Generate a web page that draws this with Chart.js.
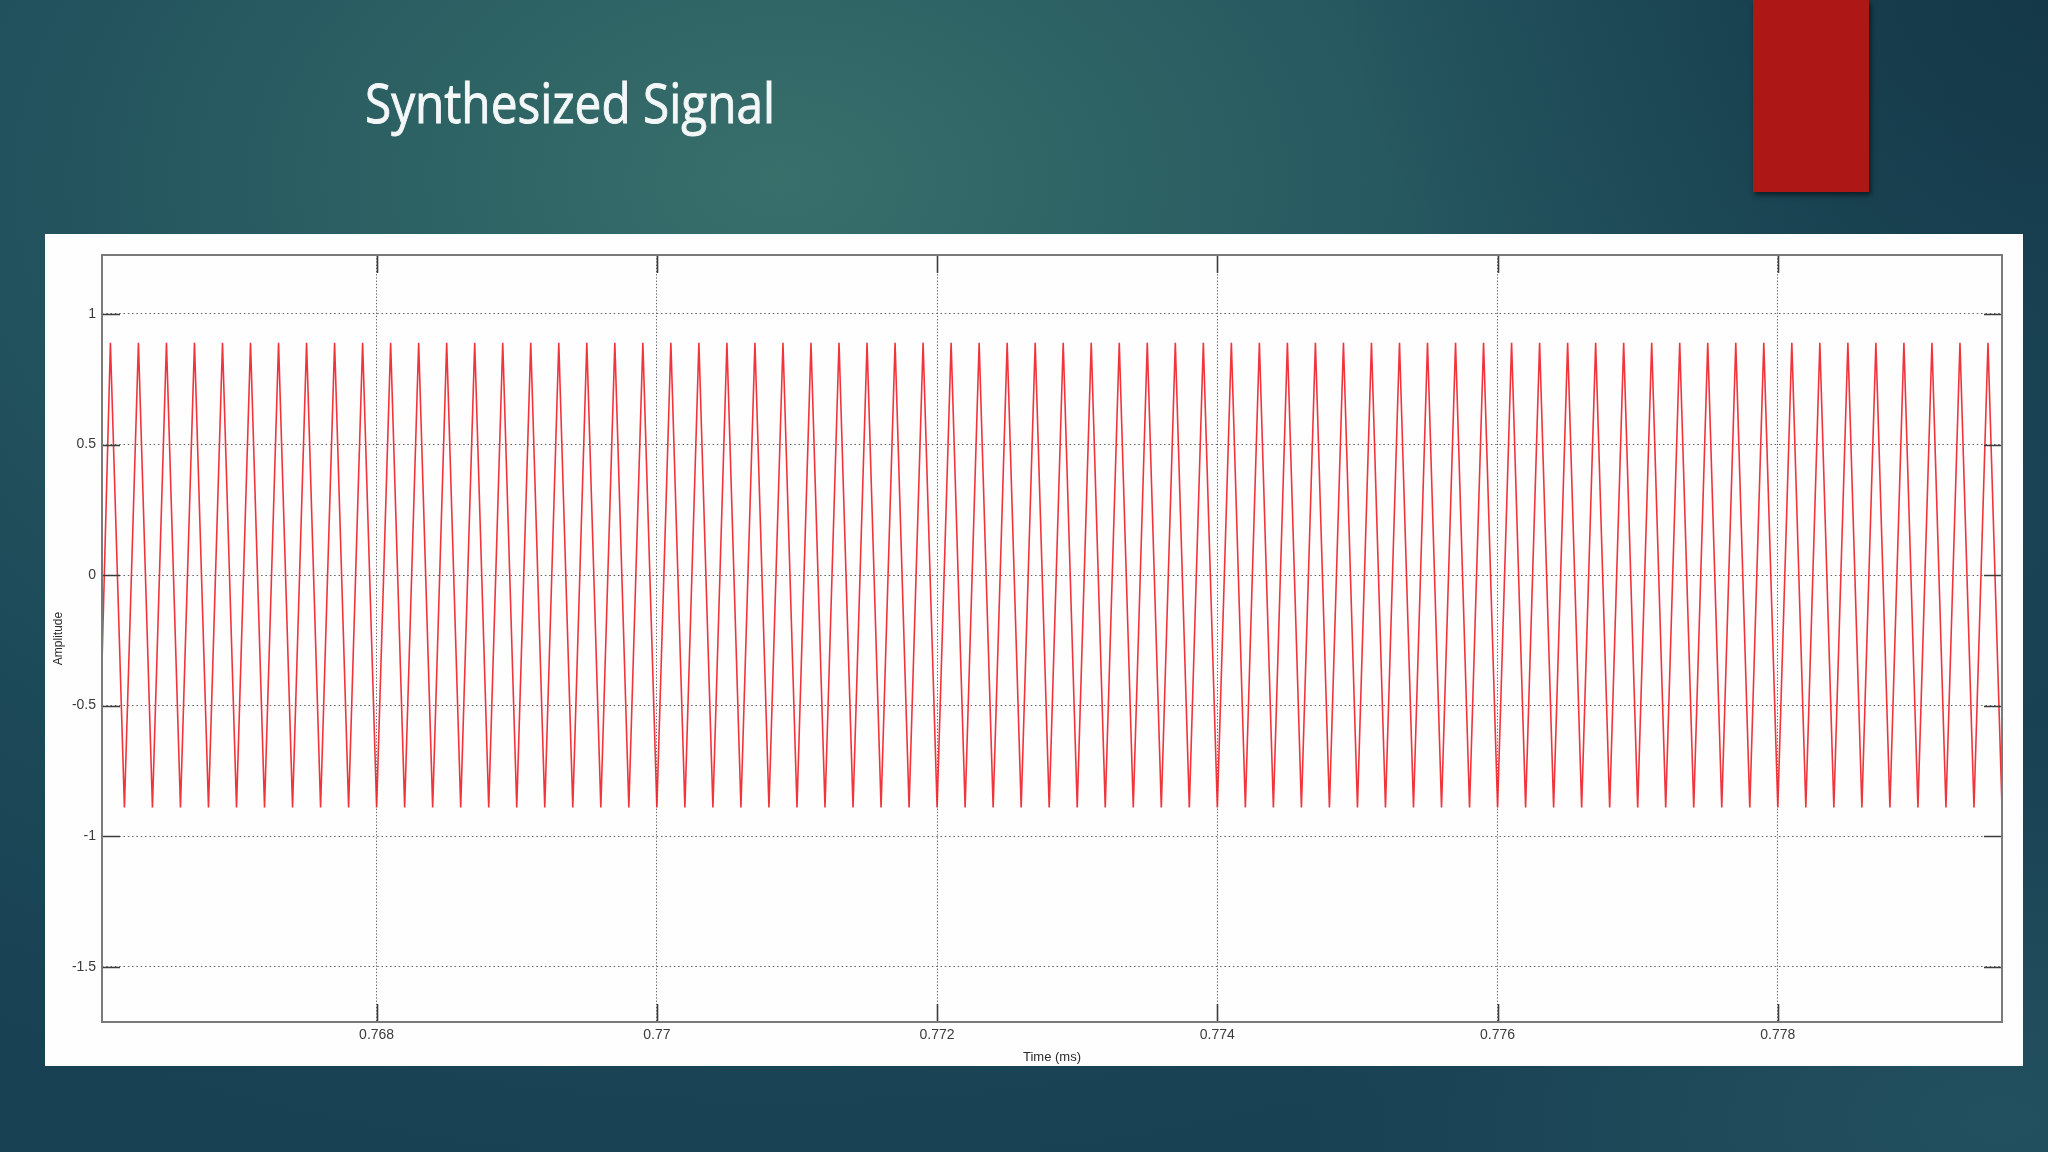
<!DOCTYPE html>
<html>
<head>
<meta charset="utf-8">
<script src="https://cdn.jsdelivr.net/npm/chart.js@4.4.1/dist/chart.umd.min.js"></script>
<style>
  html, body { margin: 0; padding: 0; width: 2048px; height: 1152px; overflow: hidden; }
  body {
    position: relative;
    background:
      radial-gradient(ellipse 700px 400px at 2000px 1120px, rgba(45,95,105,0.5) 0%, rgba(45,95,105,0) 100%),
      radial-gradient(ellipse 700px 500px at 2048px 0px, rgba(15,45,60,0.55) 0%, rgba(15,45,60,0) 100%),
      radial-gradient(ellipse 1500px 1000px at 780px 180px, #386f6b 0%, #2d6264 24%, #23545e 48%, #1c4958 72%, #184153 100%);
  }
  #redbox {
    position: absolute; left: 1753px; top: 0; width: 116px; height: 192px;
    background: #ad1816;
    box-shadow: 2px 3px 5px rgba(0,0,0,0.55);
  }
  #title {
    position: absolute; left: 365px; top: 74px;
    font-family: "Open Sans", "Noto Sans", sans-serif; font-size: 55px; line-height: 55px;
    color: #f4f7f7; white-space: nowrap; transform-origin: 0 0;
    -webkit-text-stroke: 0.9px #f4f7f7;
  }
  #panel {
    position: absolute; left: 45px; top: 234px; width: 1978px; height: 832px;
    background: #fefefe;
  }
  #c { position: absolute; left: 0; top: 0; }
</style>
</head>
<body>
<div id="redbox"></div>
<div id="title"><span id="titleText">Synthesized Signal</span></div>
<div id="panel"></div>
<canvas id="c" width="2048" height="1152"></canvas>
<script>
// ---- data ----
const timeMs = [
  0.76603,
  0.7661, 0.7662, 0.7663, 0.7664, 0.7665, 0.7666, 0.7667, 0.7668, 0.7669, 0.7670,
  0.7671, 0.7672, 0.7673, 0.7674, 0.7675, 0.7676, 0.7677, 0.7678, 0.7679, 0.7680,
  0.7681, 0.7682, 0.7683, 0.7684, 0.7685, 0.7686, 0.7687, 0.7688, 0.7689, 0.7690,
  0.7691, 0.7692, 0.7693, 0.7694, 0.7695, 0.7696, 0.7697, 0.7698, 0.7699, 0.7700,
  0.7701, 0.7702, 0.7703, 0.7704, 0.7705, 0.7706, 0.7707, 0.7708, 0.7709, 0.7710,
  0.7711, 0.7712, 0.7713, 0.7714, 0.7715, 0.7716, 0.7717, 0.7718, 0.7719, 0.7720,
  0.7721, 0.7722, 0.7723, 0.7724, 0.7725, 0.7726, 0.7727, 0.7728, 0.7729, 0.7730,
  0.7731, 0.7732, 0.7733, 0.7734, 0.7735, 0.7736, 0.7737, 0.7738, 0.7739, 0.7740,
  0.7741, 0.7742, 0.7743, 0.7744, 0.7745, 0.7746, 0.7747, 0.7748, 0.7749, 0.7750,
  0.7751, 0.7752, 0.7753, 0.7754, 0.7755, 0.7756, 0.7757, 0.7758, 0.7759, 0.7760,
  0.7761, 0.7762, 0.7763, 0.7764, 0.7765, 0.7766, 0.7767, 0.7768, 0.7769, 0.7770,
  0.7771, 0.7772, 0.7773, 0.7774, 0.7775, 0.7776, 0.7777, 0.7778, 0.7779, 0.7780,
  0.7781, 0.7782, 0.7783, 0.7784, 0.7785, 0.7786, 0.7787, 0.7788, 0.7789, 0.7790,
  0.7791, 0.7792, 0.7793, 0.7794, 0.7795, 0.7796
];
const amplitude = [
  -0.54,
  0.89, -0.89, 0.89, -0.89, 0.89, -0.89, 0.89, -0.89, 0.89, -0.89,
  0.89, -0.89, 0.89, -0.89, 0.89, -0.89, 0.89, -0.89, 0.89, -0.89,
  0.89, -0.89, 0.89, -0.89, 0.89, -0.89, 0.89, -0.89, 0.89, -0.89,
  0.89, -0.89, 0.89, -0.89, 0.89, -0.89, 0.89, -0.89, 0.89, -0.89,
  0.89, -0.89, 0.89, -0.89, 0.89, -0.89, 0.89, -0.89, 0.89, -0.89,
  0.89, -0.89, 0.89, -0.89, 0.89, -0.89, 0.89, -0.89, 0.89, -0.89,
  0.89, -0.89, 0.89, -0.89, 0.89, -0.89, 0.89, -0.89, 0.89, -0.89,
  0.89, -0.89, 0.89, -0.89, 0.89, -0.89, 0.89, -0.89, 0.89, -0.89,
  0.89, -0.89, 0.89, -0.89, 0.89, -0.89, 0.89, -0.89, 0.89, -0.89,
  0.89, -0.89, 0.89, -0.89, 0.89, -0.89, 0.89, -0.89, 0.89, -0.89,
  0.89, -0.89, 0.89, -0.89, 0.89, -0.89, 0.89, -0.89, 0.89, -0.89,
  0.89, -0.89, 0.89, -0.89, 0.89, -0.89, 0.89, -0.89, 0.89, -0.89,
  0.89, -0.89, 0.89, -0.89, 0.89, -0.89, 0.89, -0.89, 0.89, -0.89,
  0.89, -0.89, 0.89, -0.89, 0.89, -0.89
];
const xTickValues = [0.768, 0.770, 0.772, 0.774, 0.776, 0.778];
const xTickLabels = ['0.768', '0.77', '0.772', '0.774', '0.776', '0.778'];
const yTickValues = [-1.5, -1, -0.5, 0, 0.5, 1];
const yTickLabels = ['-1.5', '-1', '-0.5', '0', '0.5', '1'];
const xRange = [0.76604, 0.7796];
const yRange = [-1.712, 1.226];

// title horizontal fit (Segoe-like width)
(function(){
  const t = document.getElementById('title');
  const w = document.getElementById('titleText').getBoundingClientRect().width;
  t.style.transform = 'scaleX(' + (410 / w) + ')';
})();

const axisFont = { family: '"Liberation Sans", Arial, sans-serif', size: 14 };

const matlabBox = {
  id: 'matlabBox',
  afterDatasetsDraw(chart) {
    const { ctx, chartArea: a, scales } = chart;
    const TL = 18;
    ctx.save();
    ctx.strokeStyle = '#3c3c3c';
    ctx.lineWidth = 1.6;
    ctx.beginPath();
    xTickValues.forEach(v => {
      const p = Math.round(scales.x.getPixelForValue(v)) + 0.5;
      ctx.moveTo(p, a.bottom); ctx.lineTo(p, a.bottom - TL);
      ctx.moveTo(p, a.top); ctx.lineTo(p, a.top + TL);
    });
    yTickValues.forEach(v => {
      const p = Math.round(scales.y.getPixelForValue(v)) + 0.5;
      ctx.moveTo(a.left, p); ctx.lineTo(a.left + TL, p);
      ctx.moveTo(a.right, p); ctx.lineTo(a.right - TL, p);
    });
    ctx.stroke();
    ctx.strokeStyle = '#7a7a7a';
    ctx.lineWidth = 2;
    ctx.strokeRect(a.left, a.top, a.right - a.left, a.bottom - a.top);
    ctx.restore();
  }
};

new Chart(document.getElementById('c'), {
  type: 'line',
  data: {
    datasets: [{
      data: timeMs.map((t, i) => ({ x: t, y: amplitude[i] })),
      borderColor: 'rgba(240,30,38,0.9)',
      borderWidth: 1.6,
      pointRadius: 0,
      tension: 0,
      fill: false
    }]
  },
  options: {
    responsive: false,
    devicePixelRatio: 1,
    animation: false,
    events: [],
    layout: { padding: { left: 45, top: 255, right: 46, bottom: 86 } },
    plugins: { legend: { display: false }, title: { display: false }, tooltip: { enabled: false } },
    scales: {
      x: {
        type: 'linear',
        min: xRange[0], max: xRange[1],
        afterBuildTicks: s => { s.ticks = xTickValues.map(v => ({ value: v })); },
        afterFit: s => { s.height = 44; },
        ticks: {
          autoSkip: false, maxRotation: 0, minRotation: 0, padding: 5,
          color: '#3a3a3a', font: axisFont,
          callback: (v, i) => xTickLabels[i]
        },
        grid: { color: 'rgba(70,70,70,0.85)', lineWidth: 1, drawTicks: false },
        border: { display: false, dash: [1.3, 1.9] },
        title: {
          display: true, text: 'Time (ms)', color: '#2a2a2a',
          font: { family: '"Liberation Sans", Arial, sans-serif', size: 13 },
          padding: { top: 0, bottom: 1 }
        }
      },
      y: {
        type: 'linear',
        min: yRange[0], max: yRange[1],
        afterBuildTicks: s => { s.ticks = yTickValues.map(v => ({ value: v })); },
        afterFit: s => { s.width = 57; },
        ticks: {
          autoSkip: false, padding: 6,
          color: '#3a3a3a', font: axisFont,
          callback: (v, i) => yTickLabels[i]
        },
        grid: { color: 'rgba(70,70,70,0.85)', lineWidth: 1, drawTicks: false },
        border: { display: false, dash: [1.5, 2.8] },
        title: {
          display: true, text: 'Amplitude', color: '#2a2a2a',
          font: { family: '"Liberation Sans", Arial, sans-serif', size: 12 },
          padding: { top: 6, bottom: 0 }
        }
      }
    }
  },
  plugins: [matlabBox]
});
</script>
</body>
</html>
